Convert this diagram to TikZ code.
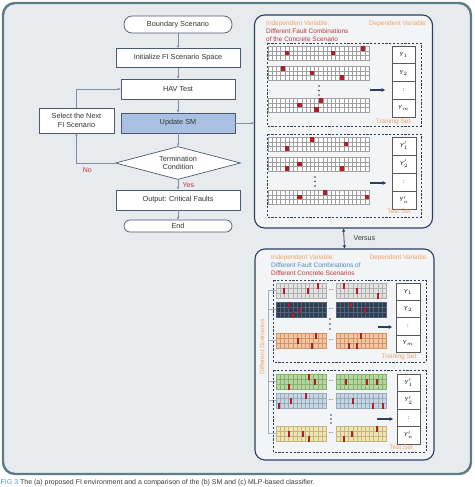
\documentclass[tikz,border=0pt]{standalone}
\usepackage{fontspec}
\setmainfont{Liberation Sans}
\usetikzlibrary{shapes.geometric,arrows.meta}

\definecolor{framecol}{HTML}{5E7C87}
\definecolor{bgcol}{HTML}{E8EBEE}
\definecolor{panelcol}{HTML}{F2F4F6}
\definecolor{navy}{HTML}{2F3E5E}
\definecolor{boxline}{HTML}{4A5A72}
\definecolor{flowarrow}{HTML}{7F8DA4}
\definecolor{smblue}{HTML}{A9C0E3}
\definecolor{varorange}{HTML}{EBA46C}
\definecolor{varred}{HTML}{B8373A}
\definecolor{varblue}{HTML}{4F8AC6}
\definecolor{faultred}{HTML}{B01E28}
\definecolor{gridgray}{HTML}{A0A0A0}
\definecolor{figblue}{HTML}{4AA3C8}
\definecolor{capgray}{HTML}{3A3A3A}
\definecolor{bracketcol}{HTML}{9FB3C8}
\definecolor{grayfill}{HTML}{E2E2E2}
\definecolor{grayline}{HTML}{B0B0B0}
\definecolor{navyfill}{HTML}{2E3D52}
\definecolor{navyline}{HTML}{52627A}
\definecolor{peachfill}{HTML}{F2C6A0}
\definecolor{peachline}{HTML}{D0956A}
\definecolor{greenfill}{HTML}{B7D6A3}
\definecolor{greenline}{HTML}{86B06E}
\definecolor{bluefill}{HTML}{C8D5E2}
\definecolor{blueline}{HTML}{98AAC0}
\definecolor{yellowfill}{HTML}{EFE4B4}
\definecolor{yellowline}{HTML}{C4B67E}

\newcommand{\faultstrip}[3]{%
  \draw[gridgray,line width=0.3pt,fill=white] (#1,#2) rectangle ++(101,14);
  \foreach \gi in {1,...,23} \draw[gridgray,line width=0.3pt] ({#1+\gi*101/24},#2) -- ++(0,14);
  \foreach \gi in {1,2} \draw[gridgray,line width=0.3pt] (#1,{#2+\gi*14/3}) -- ++(101,0);
  \foreach \c/\r in {#3} \fill[faultred] ({#1+\c*101/24},{#2+\r*14/3}) rectangle ++({101/24},{14/3});
}
\newcommand{\scenstrip}[5]{%
  \draw[#4,line width=0.3pt,fill=#3] (#1,#2) rectangle ++(50,15);
  \foreach \gi in {1,...,11} \draw[#4,line width=0.3pt] ({#1+\gi*50/12},#2) -- ++(0,15);
  \foreach \gi in {1,2} \draw[#4,line width=0.3pt] (#1,{#2+\gi*5}) -- ++(50,0);
  \foreach \bx/\br in {#5} \fill[faultred] ({#1+\bx-1},{#2+\br*5-0.5}) rectangle ++(2,6);
}

\begin{document}
\begin{tikzpicture}[x=1pt,y=-1pt,
    flowbox/.style={draw=boxline,line width=0.7pt,fill=white,text=black!80,inner sep=1pt,
      font=\fontsize{7.3}{8.5}\selectfont},
    stadium/.style={flowbox,rounded corners=8pt},
    flowline/.style={flowarrow,line width=0.6pt,-{Stealth[length=3pt,width=2.4pt]}},
    panel/.style={draw=navy,line width=1.1pt,fill=panelcol,rounded corners=10pt},
    setbox/.style={draw=navy,line width=0.9pt,dash pattern=on 2.2pt off 1.6pt},
    ycell/.style={draw=black!65,line width=0.5pt,fill=white,inner sep=0pt,
      font=\fontsize{5.8}{6}\selectfont},
    vartext/.style={font=\fontsize{6.5}{7}\selectfont,inner sep=0pt},
    bigarrow/.style={navy,line width=1.1pt,-{Stealth[length=3.5pt,width=3.8pt]}}]
  \useasboundingbox (0,0) rectangle (474,487);
  \draw[framecol,line width=2.4pt,fill=bgcol,rounded corners=12pt] (3,3) rectangle (471,474);

  % (a) flowchart
  \node[stadium,minimum width=108pt,minimum height=17pt] (bound) at (178,24.5) {Boundary Scenario};
  \node[flowbox,minimum width=124pt,minimum height=19pt] (init) at (178,58) {Initialize FI Scenario Space};
  \node[flowbox,minimum width=114pt,minimum height=20pt] (hav) at (178,89) {HAV Test};
  \node[flowbox,fill=smblue,minimum width=114pt,minimum height=20pt] (update) at (178,123) {Update SM};
  \node[flowbox,diamond,aspect=3.9,inner sep=0pt,align=center,minimum width=125pt,minimum height=33pt] (term) at (178,163) {Termination\\Condition};
  \node[flowbox,minimum width=124pt,minimum height=20pt] (output) at (178,200) {Output: Critical Faults};
  \node[stadium,rounded corners=6pt,minimum width=108pt,minimum height=12pt] (end) at (178,226) {End};
  \node[flowbox,align=center,minimum width=75pt,minimum height=25pt] (select) at (76.5,120.5) {Select the Next\\FI Scenario};

  \draw[flowline] (bound) -- (init);
  \draw[flowline] (init) -- (hav);
  \draw[flowline] (hav) -- (update);
  \draw[flowline] (update) -- (term);
  \draw[flowline] (term) -- node[right=1pt,text=varred,font=\fontsize{7}{7}\selectfont]{Yes} (output);
  \draw[flowline] (output) -- (end);
  \draw[flowline] (term.west) -| node[pos=0.36,below=1pt,text=varred,font=\fontsize{7}{7}\selectfont]{No} (select.south);
  \draw[flowline] (select.north) |- (hav.west);

  % (b) SM
  \node[panel,minimum width=178pt,minimum height=213pt] (panelb) at (343.5,121.5) {};
  \draw[flowline] (update.east) -- (update.east -| panelb.west);
  \node[vartext,anchor=west,text=varorange] (bindep) at (266,24) {Independent Variable:};
  \node[vartext,text=varorange] (bdep) at (397.5,24) {Dependent Variable};
  \node[vartext,anchor=west,text=varred] (bcomb) at (266,31.5) {Different Fault Combinations};
  \node[vartext,anchor=west,text=varred] (bconc) at (266,39) {of the Concrete Scenario};

  \draw[setbox] (267,43) rectangle (421,126);
  \faultstrip{268}{46}{4/1,15/1,22/0}
  \faultstrip{268}{66}{3/0,10/1,17/2}
  \faultstrip{268}{98}{7/1,11/2,12/0}
  \foreach \dy in {0,4.5,9} \fill[navy] (319,{86+\dy}) circle (0.9);
  \foreach \lab [count=\i] in {{\textit{Y}$_1$},{\textit{Y}$_2$},{:},{\textit{Y}$_m$}}
    \node[ycell,minimum width=23pt,minimum height=17.75pt] (bt\i) at (403.5,{46+(\i-0.5)*17.75}) {\lab};
  \coordinate (btarr) at (370,90);
  \coordinate (btend) at (385,90);
  \draw[bigarrow] (btarr) -- (btend);
  \node[vartext,text=varorange] (btrain) at (393,121.5) {Training Set};

  \draw[setbox] (267,134) rectangle (421,217);
  \faultstrip{268}{137}{10/0,18/1,4/2}
  \faultstrip{268}{157}{7/1,4/2,17/2}
  \faultstrip{268}{190}{7/1,13/0,23/1}
  \foreach \dy in {0,4.5,9} \fill[navy] (315,{177+\dy}) circle (0.9);
  \foreach \lab [count=\i] in {{\textit{Y}$'_1$},{\textit{Y}$'_2$},{:},{\textit{Y}$'_n$}}
    \node[ycell,minimum width=24pt,minimum height=18pt] (bs\i) at (404,{137+(\i-0.5)*18}) {\lab};
  \coordinate (bsarr) at (370,183);
  \coordinate (bsend) at (386,183);
  \draw[bigarrow] (bsarr) -- (bsend);
  \node[vartext,text=varorange] (btest) at (399,211.5) {Test Set};

  % (c) MLP
  \node[panel,minimum width=179pt,minimum height=211pt] (panelc) at (344.5,354.5) {};
  \draw[navy,line width=0.8pt,{Stealth[length=3.5pt,width=3.5pt]}-{Stealth[length=3.5pt,width=3.5pt]}] (panelb.south) -- node[right=6pt,font=\fontsize{7}{7}\selectfont,text=black!80]{Versus} (panelc.north);
  \node[vartext,anchor=west,text=varorange] (cindep) at (271,258) {Independent Variable:};
  \node[vartext,text=varorange] (cdep) at (398,258) {Dependent Variable};
  \node[vartext,anchor=west,text=varblue] (ccomb) at (271,265.5) {Different Fault Combinations of};
  \node[vartext,anchor=west,text=varred] (cconc) at (271,273) {Different Concrete Scenarios};
  \node[vartext,rotate=90,text=varorange] (cdiff) at (262,347) {Different Scenarios};
  \draw[bracketcol,line width=0.5pt] (268,290.5) -- (268,433.5);
  \foreach \yy in {290.5,309.5,340.5,381.5,400.5,433.5} \draw[bracketcol,line width=0.5pt] (268,\yy) -- (276,\yy);

  \draw[setbox] (273,280) rectangle (426,362);
  \scenstrip{276}{283}{grayfill}{grayline}{8/1,32/1,42/0}
  \scenstrip{336}{283}{grayfill}{grayline}{8/0,21/1,42/2}
  \scenstrip{276}{302}{navyfill}{navyline}{13/0,24/1,17/2}
  \scenstrip{336}{302}{navyfill}{navyline}{15/0,29/1}
  \scenstrip{276}{333}{peachfill}{peachline}{22/1,40/0,36/2}
  \scenstrip{336}{333}{peachfill}{peachline}{25/0,13/2,21/2}
  \foreach \yy in {290.5,309.5,340.5} \node[font=\fontsize{6}{6}\selectfont,inner sep=0pt] at (331,\yy) {...};
  \foreach \dy in {0,5,10} \fill[navy] (330,{319+\dy}) circle (0.9);
  \foreach \lab [count=\i] in {{\textit{Y}$_1$},{\textit{Y}$_2$},{:},{\textit{Y}$_m$}}
    \node[ycell,minimum width=24pt,minimum height=17.25pt] (ct\i) at (408,{283+(\i-0.5)*17.25}) {\lab};
  \coordinate (ctarr) at (378,327);
  \coordinate (ctend) at (392,327);
  \draw[bigarrow] (ctarr) -- (ctend);
  \node[vartext,text=varorange] (ctrain) at (399,356.5) {Training Set};

  \draw[setbox] (273,370) rectangle (426,452);
  \scenstrip{276}{374}{greenfill}{greenline}{33/0,13/2,39/1}
  \scenstrip{336}{374}{greenfill}{greenline}{10/1,31/1,41/1}
  \scenstrip{276}{393}{bluefill}{blueline}{30/0,15/1,3/2}
  \scenstrip{336}{393}{bluefill}{blueline}{17/1,37/2,47/2}
  \scenstrip{276}{426}{yellowfill}{yellowline}{13/1,27/1,33/2}
  \scenstrip{336}{426}{yellowfill}{yellowline}{41/0,16/1,8/2}
  \foreach \yy in {381.5,400.5,433.5} \node[font=\fontsize{6}{6}\selectfont,inner sep=0pt] at (331,\yy) {...};
  \foreach \dy in {0,4,8} \fill[navy] (331,{415+\dy}) circle (0.9);
  \foreach \lab [count=\i] in {{\textit{Y}$'_1$},{\textit{Y}$'_2$},{:},{\textit{Y}$'_n$}}
    \node[ycell,minimum width=23pt,minimum height=17.5pt] (cs\i) at (408.5,{374+(\i-0.5)*17.5}) {\lab};
  \coordinate (csarr) at (377,419);
  \coordinate (csend) at (393,419);
  \draw[bigarrow] (csarr) -- (csend);
  \node[vartext,text=varorange] (ctest) at (401,447) {Test Set};

  \node[anchor=west,inner sep=0pt,font=\fontsize{7}{8}\selectfont,text=capgray] (caption) at (0.5,482.5)
    {\textcolor{figblue}{FIG 3} The (a) proposed FI environment and a comparison of the (b) SM and (c) MLP-based classifier.};
\end{tikzpicture}
\end{document}
